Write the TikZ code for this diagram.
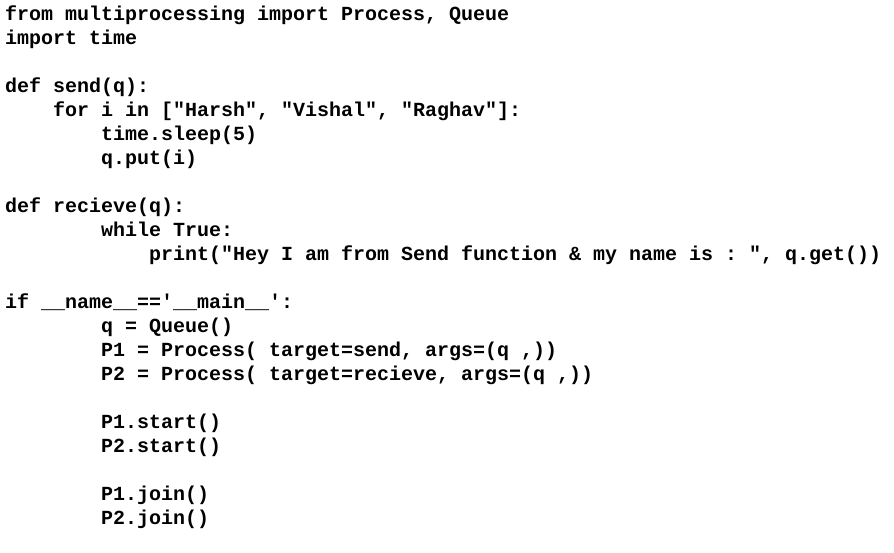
\documentclass[tikz,border=0pt]{standalone}
\usepackage{fontspec}
\setmonofont{Liberation Mono}
\begin{document}
\begin{tikzpicture}[x=1pt,y=-1pt,
  code/.style={anchor=base west,inner sep=0pt,font=\ttfamily\bfseries\fontsize{20}{24}\selectfont,text=black}]
\fill[white] (0,0) rectangle (894,552);
\useasboundingbox (0,0) rectangle (894,552);
\def\ln#1#2#3{\node[code] (l#1) at (5+12*#2,20+24*#1) {#3};}
\ln{0}{0}{from multiprocessing import Process, Queue}
\ln{1}{0}{import time}
\ln{3}{0}{def send(q):}
\ln{4}{4}{for i in ["Harsh", "Vishal", "Raghav"]:}
\ln{5}{8}{time.sleep(5)}
\ln{6}{8}{q.put(i)}
\ln{8}{0}{def recieve(q):}
\ln{9}{8}{while True:}
\ln{10}{12}{print("Hey I am from Send function \& my name is : ", q.get())}
\ln{12}{0}{if \_\_name\_\_=='\_\_main\_\_':}
\ln{13}{8}{q = Queue()}
\ln{14}{8}{P1 = Process( target=send, args=(q ,))}
\ln{15}{8}{P2 = Process( target=recieve, args=(q ,))}
\ln{17}{8}{P1.start()}
\ln{18}{8}{P2.start()}
\ln{20}{8}{P1.join()}
\ln{21}{8}{P2.join()}
\end{tikzpicture}
\end{document}
